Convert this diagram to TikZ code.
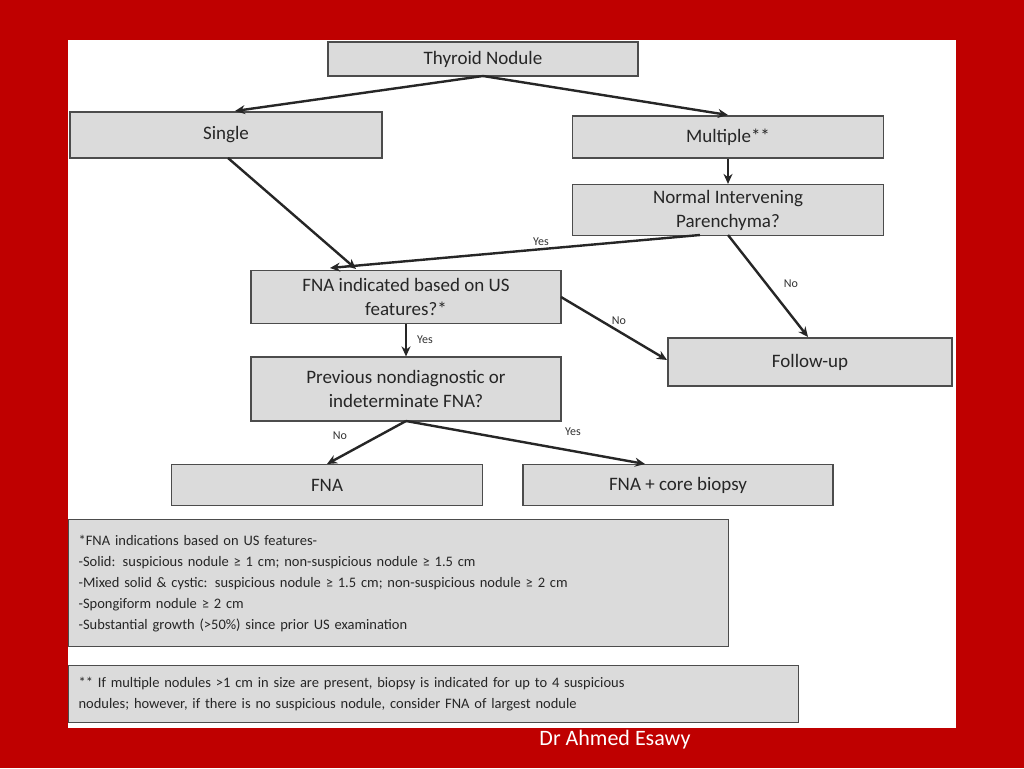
\documentclass[tikz,border=0pt]{standalone}
\usepackage{fontspec}
\setmainfont{Carlito}
\usetikzlibrary{arrows.meta}
\begin{document}
\begin{tikzpicture}[x=1pt,y=-1pt,
 box/.style={draw=black!70,fill=black!14,line width=1.2pt,inner sep=2pt,align=center,font=\fontsize{19}{24}\selectfont,text=black!85},
 arr/.style={-{Stealth[length=10pt,width=9pt]},line width=2.4pt,draw=black!85},
 lab/.style={font=\fontsize{12}{14}\selectfont,text=black!80}]
\fill[red!75!black] (0,0) rectangle (1024,768);
\fill[white] (68,40) rectangle (956,728);
\node[box,minimum width=310pt,minimum height=34pt] (tn) at (483,59) {Thyroid Nodule};
\node[box,minimum width=312pt,minimum height=46pt] (si) at (226,135) {Single};
\node[box,minimum width=311pt,minimum height=42pt] (mu) at (728,137) {Multiple**};
\node[box,minimum width=311pt,minimum height=51pt] (ni) at (728,210) {Normal Intervening\\Parenchyma?};
\node[box,minimum width=310pt,minimum height=53pt] (fi) at (406,297) {FNA indicated based on US\\features?*};
\node[box,minimum width=284pt,minimum height=48pt] (fu) at (810,362) {Follow-up};
\node[box,minimum width=310pt,minimum height=64pt] (pr) at (406,389) {Previous nondiagnostic or\\indeterminate FNA?};
\node[box,minimum width=311pt,minimum height=41pt] (fna) at (327,485) {FNA};
\node[box,minimum width=310pt,minimum height=41pt] (core) at (678,485) {FNA + core biopsy};
\node[box,minimum width=660pt,minimum height=127pt,align=left,anchor=north west,font=\fontsize{14.5}{21}\selectfont,text width=640pt] (n1) at (68,519) {*FNA indications based on US features-\\-Solid: suspicious nodule ≥ 1 cm; non-suspicious nodule ≥ 1.5 cm\\-Mixed solid \& cystic: suspicious nodule ≥ 1.5 cm; non-suspicious nodule ≥ 2 cm\\-Spongiform nodule ≥ 2 cm\\-Substantial growth (>50\%) since prior US examination};
\node[box,minimum width=730pt,minimum height=57pt,align=left,anchor=north west,font=\fontsize{14.5}{21}\selectfont,text width=710pt] (n2) at (68,665) {** If multiple nodules >1 cm in size are present, biopsy is indicated for up to 4 suspicious\\nodules; however, if there is no suspicious nodule, consider FNA of largest nodule};
\node[font=\fontsize{22}{26}\selectfont,text=white] (au) at (615,740) {Dr Ahmed Esawy};
\coordinate (tnb) at (483,76);
\draw[arr] (tnb) -- (235,111);
\draw[arr] (tnb) -- (728,115);
\draw[arr] (mu) -- (ni);
\draw[arr] (228,158) -- (356,269);
\draw[arr] (700,235) -- (330,268);
\node[lab] (y1) at (541,242) {Yes};
\draw[arr] (728,235) -- (808,337);
\node[lab] (n1l) at (791,284) {No};
\draw[arr] (561,297) -- (667,360);
\node[lab] (n2l) at (619,321) {No};
\draw[arr] (fi) -- (pr);
\node[lab] (y2) at (425,340) {Yes};
\coordinate (prb) at (406,421);
\draw[arr] (prb) -- (327,464);
\node[lab] (n3l) at (340,436) {No};
\draw[arr] (prb) -- (645,464);
\node[lab] (y3) at (573,432) {Yes};
\end{tikzpicture}
\end{document}
